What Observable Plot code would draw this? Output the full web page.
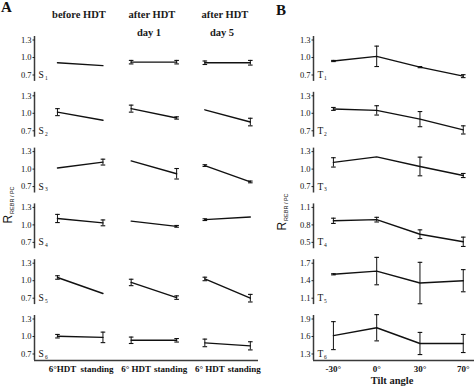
<!DOCTYPE html>
<html><head><meta charset="utf-8">
<script src="https://cdn.jsdelivr.net/npm/d3@7"></script>
<script src="https://cdn.jsdelivr.net/npm/@observablehq/plot@0.6"></script>
<style>
body{margin:0;background:#fff;}
#wrap{position:relative;width:474px;height:388px;font-family:"Liberation Serif","DejaVu Serif",serif;color:#111;overflow:hidden;}
.abs{position:absolute;white-space:nowrap;transform:translate(-50%,-50%);line-height:1;}
.hdr{font-size:10.5px;font-weight:bold;color:#1a1a1a;}
.pl{font-size:15px;font-weight:bold;transform:none;}
.rl{font-family:"Liberation Sans",sans-serif;font-size:12px;transform:translate(-50%,-50%) rotate(-90deg);}
.rl sub{font-size:5.5px;vertical-align:-2px;margin-left:1px;}
#pa,#pb{position:absolute;top:0;}
#pa{left:0;} #pb{left:262px;}
#wrap svg text{font-family:"Liberation Serif","DejaVu Serif",serif;}
</style></head><body>
<div id="wrap">
  <div id="pa"></div><div id="pb"></div>
</div>
<script>
// ---------- Panel A data ----------
const rowsA = ["S1","S2","S3","S4","S5","S6"];
const conditionsA = ["6°HDT","standing"];
const groupsA = ["before HDT","after HDT|day 1","after HDT|day 5"];
const xTickLabelsA = ["6°HDT","standing","6° HDT","standing","6° HDT","standing"];
const yTicksA = [1.3, 1.0, 0.7];
const beforeMean = [[0.91,0.86],[1.02,0.88],[1.02,1.12],[1.11,1.035],[1.055,0.78],[1.005,0.985]];
const beforeErr  = [[0,0],[0.06,0],[0,0.05],[0.07,0.05],[0.03,0],[0.03,0.09]];
const day1Mean   = [[0.92,0.92],[1.08,0.92],[1.14,0.92],[1.065,0.975],[0.97,0.71],[0.935,0.935]];
const day1Err    = [[0.03,0.03],[0.06,0.02],[0,0.09],[0,0.015],[0.055,0.03],[0.055,0.03]];
const day5Mean   = [[0.91,0.91],[1.06,0.85],[1.06,0.78],[1.09,1.135],[1.03,0.70],[0.89,0.84]];
const day5Err    = [[0.03,0.04],[0,0.065],[0.015,0.015],[0.015,0],[0.03,0.065],[0.065,0.07]];

// ---------- Panel B data ----------
const rowsB = ["T1","T2","T3","T4","T5","T6"];
const tiltAngles = ["-30°","0°","30°","70°"];
const centersB = [1.0, 1.0, 1.0, 0.8, 1.4, 1.6];
const tiltMean = [
  [0.94, 1.02, 0.835, 0.68],
  [1.075, 1.05, 0.90, 0.715],
  [1.115, 1.21, 1.045, 0.89],
  [0.87, 0.89, 0.64, 0.51],
  [1.51, 1.565, 1.36, 1.40],
  [1.615, 1.75, 1.48, 1.48]
];
const tiltErr = [
  [0.01, 0.175, 0.01, 0.025],
  [0.025, 0.08, 0.13, 0.07],
  [0.08, 0, 0.16, 0.035],
  [0.045, 0.04, 0.075, 0.08],
  [0.01, 0.235, 0.355, 0.19],
  [0.24, 0.225, 0.19, 0.155]
];

// ---------- layout ----------
const ROWSTEP = 55.8 / 58.3;      // vertical distance between rows, in value units
const off = r => -r * ROWSTEP;
const H = 388, MT = 27.85, MB = 22.85;
const yDomain = [-0.5 - 5 * ROWSTEP, 0.5];
const AX_TOP = 0.36, AX_BOT = -0.41;
const INK = "#111";
const FONT = "'Liberation Serif','DejaVu Serif',serif";
const capSymbol = {draw(ctx, size){ const r = Math.sqrt(size/Math.PI); ctx.moveTo(-r,0); ctx.lineTo(r,0); }};
const tickSymbol = {draw(ctx, size){ const r = Math.sqrt(size/Math.PI); ctx.moveTo(-r,0); ctx.lineTo(0,0); }};

function panel({rows, centers, points, xmin, xmax, width, marginLeft, marginRight, tickVals, xlabelMarks}) {
  const errPts = points.filter(d => d.err > 0);
  const caps = errPts.flatMap(d => [{x: d.x, y: d.y - d.err}, {x: d.x, y: d.y + d.err}]);
  const axisRows = rows.map((name, r) => ({r, y1: AX_TOP + off(r), y2: AX_BOT + off(r)}));
  const ticks = rows.flatMap((name, r) => tickVals(r).map(v => ({y: v - centers[r] + off(r), label: v.toFixed(1)})));
  const rowLab = rows.map((name, r) => ({y: -0.3 + off(r), letter: name[0], sub: name.slice(1)}));
  const bottomY = AX_BOT + off(rows.length - 1);
  return Plot.plot({
    width, height: H, marginTop: MT, marginBottom: MB, marginLeft, marginRight,
    x: {domain: [xmin, xmax], axis: null},
    y: {domain: yDomain, axis: null},
    style: "background: transparent; overflow: visible; font-family: " + FONT + ";",
    marks: [
      Plot.ruleX(axisRows, {x: xmin, y1: "y1", y2: "y2", stroke: "#3a3a3a", strokeWidth: 1.5}),
      Plot.ruleY([bottomY], {x1: xmin, x2: xmax, stroke: "#3a3a3a", strokeWidth: 1.5}),
      Plot.dot(ticks, {x: xmin, y: "y", symbol: tickSymbol, r: 2, stroke: INK, fill: "none", strokeWidth: 0.9}),
      Plot.text(ticks, {x: xmin, y: "y", text: "label", textAnchor: "end", dx: -3, fontSize: 8.5, fontFamily: FONT, fill: INK}),
      Plot.text(rowLab, {x: xmin, y: "y", text: "letter", textAnchor: "start", dx: 4, fontSize: 9.5, fontFamily: FONT, fill: INK}),
      Plot.text(rowLab, {x: xmin, y: "y", text: "sub", textAnchor: "start", dx: 10.5, dy: 3, fontSize: 5.5, fontFamily: FONT, fill: INK}),
      Plot.line(points, {x: "x", y: "y", z: "z", stroke: INK, strokeWidth: 1.4}),
      Plot.ruleX(errPts, {x: "x", y1: d => d.y - d.err, y2: d => d.y + d.err, stroke: INK, strokeWidth: 1}),
      Plot.dot(caps, {x: "x", y: "y", symbol: capSymbol, r: 2.3, stroke: INK, fill: "none", strokeWidth: 1.1}),
      ...xlabelMarks(bottomY)
    ]
  });
}

// Panel A points
const GSTEP = 1.62;
const meansA = [beforeMean, day1Mean, day5Mean];
const errsA = [beforeErr, day1Err, day5Err];
const pointsA = [];
meansA.forEach((gm, g) => gm.forEach((pair, r) => pair.forEach((v, c) => {
  pointsA.push({x: g * GSTEP + c, y: v - 1.0 + off(r), err: errsA[g][r][c], z: rowsA[r] + "-" + g});
})));
const xlabA = xTickLabelsA.map((t, i) => ({x: Math.floor(i/2) * GSTEP + (i % 2), text: t, cond: i % 2}));

const plotA = panel({
  rows: rowsA, centers: rowsA.map(() => 1.0), points: pointsA,
  xmin: -0.505, xmax: 4.42, width: 262, marginLeft: 34, marginRight: 4,
  tickVals: () => yTicksA,
  xlabelMarks: by => [
    Plot.text(xlabA.filter(d => d.cond === 0), {x: "x", y: by, text: "text", dy: 9, dx: 5, fontSize: 9, fontWeight: "bold", fontFamily: FONT, fill: INK}),
    Plot.text(xlabA.filter(d => d.cond === 1), {x: "x", y: by, text: "text", dy: 9, dx: -6, fontSize: 9, fontWeight: "bold", fontFamily: FONT, fill: INK})
  ]
});

// Panel B points
const pointsB = [];
tiltMean.forEach((row, r) => row.forEach((v, i) => {
  pointsB.push({x: i, y: v - centersB[r] + off(r), err: tiltErr[r][i], z: rowsB[r]});
}));
const xlabB = tiltAngles.map((t, i) => ({x: i, text: t}));
const plotB = panel({
  rows: rowsB, centers: centersB, points: pointsB,
  xmin: -0.46, xmax: 3.26, width: 212, marginLeft: 51, marginRight: 0,
  tickVals: r => [centersB[r] + 0.3, centersB[r], centersB[r] - 0.3],
  xlabelMarks: by => [
    Plot.text(xlabB, {x: "x", y: by, text: "text", dy: 9, fontSize: 9, fontWeight: "bold", fontFamily: FONT, fill: INK})
  ]
});

document.getElementById("pa").appendChild(plotA);
document.getElementById("pb").appendChild(plotB);

// Annotations
const wrap = document.getElementById("wrap");
function addDiv(cls, html, x, y) {
  const d = document.createElement("div");
  d.className = "abs " + cls;
  d.innerHTML = html;
  d.style.left = x + "px"; d.style.top = y + "px";
  wrap.appendChild(d);
}
addDiv("pl", "A", 1, 0);
addDiv("pl", "B", 276, 3);
const hdrX = [79, 152, 225];
groupsA.forEach((g, i) => {
  const parts = g.split("|");
  addDiv("hdr", parts[0], hdrX[i], 15);
  if (parts[1]) addDiv("hdr", parts[1], hdrX[i] - 3, 33);
});
addDiv("rl", "R<sub>REBR / PC</sub>", 9, 205);
addDiv("rl", "R<sub>REBR / PC</sub>", 283, 212);
addDiv("hdr", "Tilt angle", 392, 381);
</script>
</body></html>
